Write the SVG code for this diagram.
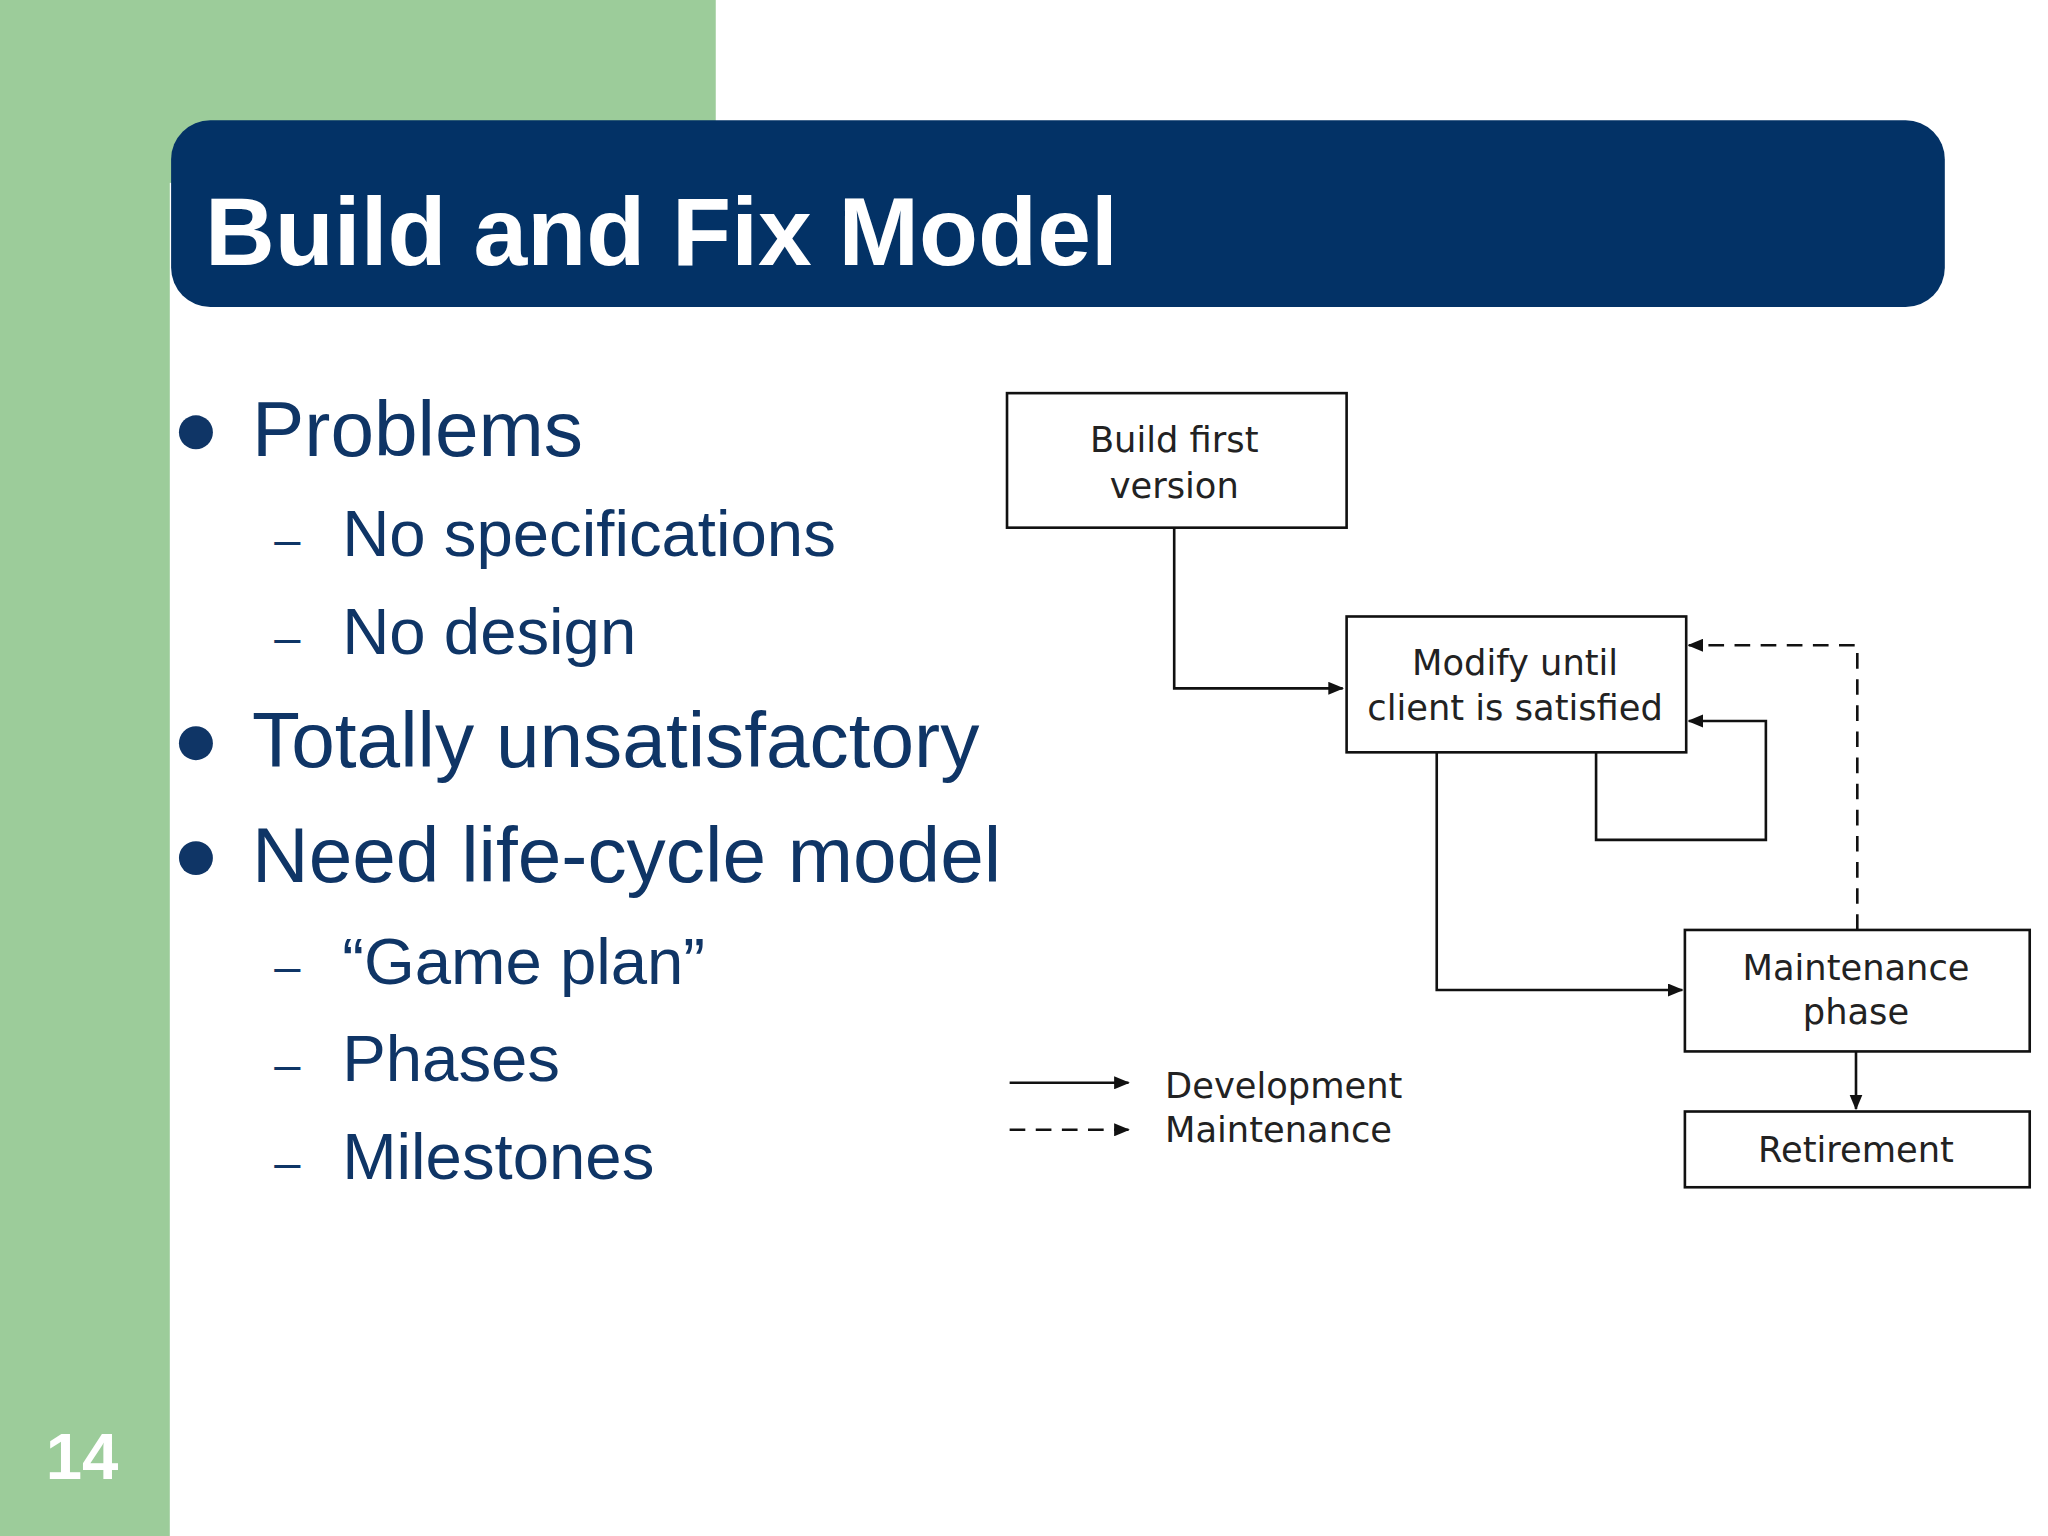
<svg xmlns="http://www.w3.org/2000/svg" width="2048" height="1536" viewBox="0 0 2048 1536">
<style>
.b{fill:#fff;stroke:#111;stroke-width:2}
.c{fill:none;stroke:#111;stroke-width:2}
.d{stroke-dasharray:12,8}
.t{font-family:"Liberation Sans",Arial,sans-serif;fill:#0f3566}
.bt{font-family:"DejaVu Sans","Liberation Sans",sans-serif;font-size:27px;fill:#222;text-anchor:middle}
.lt{font-family:"DejaVu Sans","Liberation Sans",sans-serif;font-size:27px;fill:#222}
</style>
<defs><marker id="a" markerWidth="12" markerHeight="10" refX="11" refY="5" orient="auto" markerUnits="userSpaceOnUse"><path d="M0,0 L12,5 L0,10 Z" fill="#111"/></marker></defs>
<rect width="2048" height="1536" fill="#fff"/>
<g transform="scale(1.30612)">
<rect x="0" y="0" width="130" height="1176" fill="#9ccc9a"/>
<rect x="0" y="0" width="548" height="140" fill="#9ccc9a"/>
<rect x="131" y="92" width="1358" height="143" rx="30" fill="#033266"/>
<text x="157" y="203" font-family="Liberation Sans,Arial,sans-serif" font-weight="bold" font-size="74" fill="#fff">Build and Fix Model</text>
<text x="35" y="1132" font-family="Liberation Sans,Arial,sans-serif" font-weight="bold" font-size="50" fill="#fff">14</text>
<g id="bullets">
<circle cx="150" cy="331" r="13" fill="#0f3566"/>
<circle cx="150" cy="569" r="13" fill="#0f3566"/>
<circle cx="150" cy="657" r="13" fill="#0f3566"/>
<text class="t" x="193" y="349" font-size="60">Problems</text>
<text class="t" x="193" y="587" font-size="60">Totally unsatisfactory</text>
<text class="t" x="193" y="675" font-size="60">Need life-cycle model</text>
<g font-size="50">
<text class="t" x="210" y="425" font-size="36">–</text><text class="t" x="262" y="426" font-size="50">No specifications</text>
<text class="t" x="210" y="500" font-size="36">–</text><text class="t" x="262" y="501" font-size="50">No design</text>
<text class="t" x="210" y="752" font-size="36">–</text><text class="t" x="262" y="753" font-size="50">“Game plan”</text>
<text class="t" x="210" y="827" font-size="36">–</text><text class="t" x="262" y="828" font-size="50">Phases</text>
<text class="t" x="210" y="902" font-size="36">–</text><text class="t" x="262" y="903" font-size="50">Milestones</text>
</g>
</g>
<g id="connectors">
<path class="c" d="M899,404 V527 H1028" marker-end="url(#a)"/>
<path class="c" d="M1100,576 V758 H1288" marker-end="url(#a)"/>
<path class="c" d="M1222,576 V643 H1352 V552 H1293" marker-end="url(#a)"/>
<path class="c d" d="M1422,712 V494 H1293" marker-end="url(#a)"/>
<path class="c" d="M1421,805 V849" marker-end="url(#a)"/>
<path class="c" d="M773,829 H864" marker-end="url(#a)"/>
<path class="c d" d="M773,865 H864" marker-end="url(#a)"/>
</g>
<g id="n1"><rect class="b" x="771" y="301" width="260" height="103"/><text class="bt" x="899" y="346">Build first</text><text class="bt" x="899" y="381">version</text></g>
<g id="n2"><rect class="b" x="1031" y="472" width="260" height="104"/><text class="bt" x="1160" y="517">Modify until</text><text class="bt" x="1160" y="551">client is satisfied</text></g>
<g id="n3"><rect class="b" x="1290" y="712" width="264" height="93"/><text class="bt" x="1421" y="750">Maintenance</text><text class="bt" x="1421" y="784">phase</text></g>
<g id="n4"><rect class="b" x="1290" y="851" width="264" height="58"/><text class="bt" x="1421" y="890">Retirement</text></g>
<g id="legend"><text class="lt" x="892" y="841">Development</text><text class="lt" x="892" y="874">Maintenance</text></g>
</g>
</svg>
